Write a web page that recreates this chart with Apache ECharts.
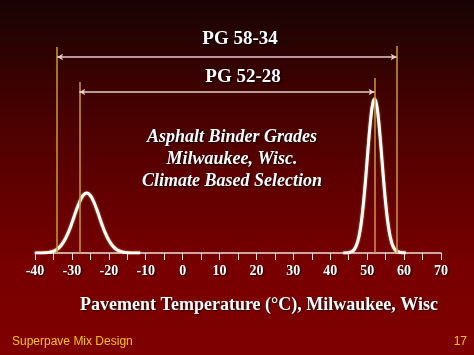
<!DOCTYPE html>
<html>
<head>
<meta charset="utf-8">
<script src="https://cdn.jsdelivr.net/npm/echarts@6/dist/echarts.min.js"></script>
<style>
  html, body { margin: 0; padding: 0; }
  body {
    width: 474px; height: 355px; overflow: hidden;
    background: linear-gradient(to bottom, #170404 0%, #3e0101 25%, #5e0000 50%, #780000 75%, #800000 100%);
  }
  #content_data { width: 474px; height: 355px; }
</style>
</head>
<body>
<div id="content_data"></div>
<script>
// low temperature distribution (height above axis, px-ish units)
const low_X = [-40, -37, -36, -35, -34, -33, -32, -31, -30, -29, -28, -27, -26, -25, -24, -23, -22, -21, -20, -19, -18, -17, -16, -15, -14, -11.5];
const low_Y = [0, 0.2, 0.8, 1.8, 3.8, 7.2, 12.7, 20.4, 30.0, 40.7, 50.5, 57.5, 60, 57.5, 50.5, 40.7, 30.0, 20.4, 12.7, 7.2, 3.8, 1.8, 0.8, 0.3, 0.1, 0];

// high temperature distribution
const high_X = [43.5, 45, 46, 46.5, 47, 47.5, 48, 48.5, 49, 49.5, 50, 50.5, 51, 51.5, 52, 52.5, 53, 53.5, 54, 54.5, 55, 55.5, 56, 56.5, 57, 58, 60.5];
const high_Y = [0, 0.3, 1.7, 3.5, 6.8, 12.3, 20.8, 33.3, 50.0, 70.5, 93.4, 116.2, 135.9, 149.3, 154, 149.3, 135.9, 116.2, 93.4, 70.5, 50.0, 33.3, 20.8, 12.3, 6.8, 1.7, 0];

// grade limits: vertical lines
const limit_Temps = [-34, -28, 52, 58];
const limit_Tops = [206, 171, 175, 207];

// grade spans (arrows)
const grade_Names = ['PG 58-34', 'PG 52-28'];
const grade_From = [-34, -28];
const grade_To = [58, 52];
const grade_Level = [196, 161];

const tick_Min = -40, tick_Max = 70, tick_Step = 5;

const toPairs = (xs, ys) => xs.map((x, i) => [x, ys[i]]);

let Chart = echarts.init(document.getElementById('content_data'), null, { renderer: 'canvas' });

const serif = '"Liberation Serif", "Times New Roman", serif';
const shadow = { textShadowColor: 'rgba(0,0,0,0.85)', textShadowBlur: 2, textShadowOffsetX: 1, textShadowOffsetY: 1 };

const curveStyle = {
    color: '#ffffff',
    width: 3,
    shadowColor: 'rgba(255,220,120,0.7)',
    shadowBlur: 2
};

const txt = (text, x, y, font, fill, align) => ({
    type: 'text', x: x, y: y,
    style: { text: text, align: align || 'center', verticalAlign: 'middle', fill: fill || '#fff', font: font, ...(fill ? {} : shadow) }
});

Chart.setOption({
    backgroundColor: 'transparent',
    animation: false,
    grid: { left: 35, right: 33, top: 43, bottom: 102 },
    xAxis: {
        type: 'value',
        min: tick_Min,
        max: tick_Max,
        interval: tick_Step,
        axisLine: { lineStyle: { color: '#eedede', width: 1.5 } },
        axisTick: { length: 7, lineStyle: { color: '#eedede', width: 1 } },
        splitLine: { show: false },
        axisLabel: {
            margin: 11,
            color: '#ffffff',
            fontFamily: serif,
            fontWeight: 'bold',
            fontSize: 14,
            ...shadow,
            formatter: v => (v % 10 === 0 ? String(v) : '')
        }
    },
    yAxis: { type: 'value', min: 0, max: 210, show: false },
    series: [
        {
            name: 'low',
            type: 'line',
            smooth: 0.4,
            showSymbol: false,
            z: 2,
            lineStyle: curveStyle,
            data: toPairs(low_X, low_Y)
        },
        {
            name: 'high',
            type: 'line',
            smooth: 0.4,
            showSymbol: false,
            z: 2,
            lineStyle: curveStyle,
            data: toPairs(high_X, high_Y)
        },
        {
            name: 'limits',
            type: 'line',
            data: [],
            z: 3,
            markLine: {
                silent: true,
                symbol: 'none',
                label: { show: false },
                lineStyle: { color: '#c89a3c', width: 1.5, type: 'solid' },
                data: limit_Temps.map((t, i) => [{ coord: [t, 0] }, { coord: [t, limit_Tops[i]] }])
            }
        },
        {
            name: 'grades',
            type: 'line',
            data: [],
            z: 4,
            markLine: {
                silent: true,
                symbol: ['arrow', 'arrow'],
                symbolSize: [5, 6],
                label: { show: false },
                lineStyle: { color: '#e6cccc', width: 1.5, type: 'solid' },
                data: grade_From.map((f, i) => [{ coord: [f, grade_Level[i]] }, { coord: [grade_To[i], grade_Level[i]] }])
            }
        }
    ],
    graphic: [
        txt(grade_Names[0], 240, 39, 'bold 19px ' + serif),
        txt(grade_Names[1], 243, 77, 'bold 19px ' + serif),
        txt('Asphalt Binder Grades', 232, 137, 'italic bold 18px ' + serif),
        txt('Milwaukee, Wisc.', 232, 159, 'italic bold 18px ' + serif),
        txt('Climate Based Selection', 232, 181, 'italic bold 18px ' + serif),
        txt('Pavement Temperature (\u00B0C), Milwaukee, Wisc', 259, 305, 'bold 18px ' + serif),
        txt('Superpave Mix Design', 12, 342, '12px "Liberation Sans", Arial, sans-serif', '#f2c21c', 'left'),
        txt('17', 467, 342, '12px "Liberation Sans", Arial, sans-serif', '#f2c21c', 'right')
    ]
});
</script>
</body>
</html>
